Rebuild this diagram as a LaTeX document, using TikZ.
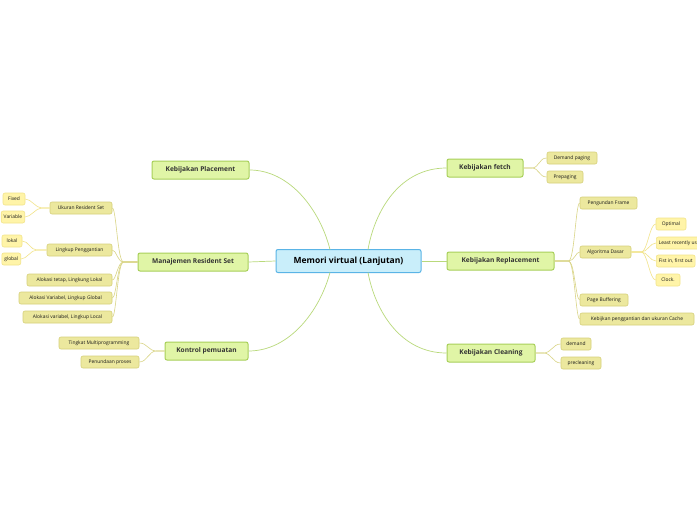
\documentclass[tikz,border=0pt]{standalone}
\usepackage{fontspec}
\setmainfont{Open Sans}
\begin{document}
\begin{tikzpicture}[x=1pt,y=-1pt,
 ctr/.style={draw=cb,fill=cf,line width=1pt,rounded corners=2pt,font=\fontsize{8.5}{10}\selectfont\bfseries,minimum height=23,inner xsep=6},
 mainn/.style={draw=mb,fill=mf,line width=1pt,rounded corners=2pt,font=\fontsize{6.6}{8}\selectfont\bfseries,text=black!80,minimum height=18,inner xsep=5},
 subn/.style={draw=sb,fill=sf,line width=0.6pt,rounded corners=2pt,font=\fontsize{4.9}{6}\selectfont,text=black!90,minimum height=12,inner xsep=2.5},
 leaf/.style={draw=lb,fill=lf,line width=0.6pt,rounded corners=2pt,font=\fontsize{4.9}{6}\selectfont,text=black!90,minimum height=12,inner xsep=2.5},
 conmain/.style={draw=mb!80,line width=0.7pt},
 consub/.style={draw=sb!90,line width=0.6pt},
 conleaf/.style={draw=lb,line width=0.6pt}]
\definecolor{cf}{HTML}{C9EEFA}\definecolor{cb}{HTML}{5AB4E6}
\definecolor{mf}{HTML}{E0F5A6}\definecolor{mb}{HTML}{A8D05A}
\definecolor{sf}{HTML}{ECE89E}\definecolor{sb}{HTML}{D6D07A}
\definecolor{lf}{HTML}{FFF4A8}\definecolor{lb}{HTML}{F2E48A}
\path[use as bounding box,fill=white] (0,0) rectangle (697,520);
\clip (0,0) rectangle (697,520);
\node[ctr,minimum width=145] (c) at (348.5,261) {Memori virtual (Lanjutan)};
\node[mainn,minimum width=97] (pl) at (200.5,170) {Kebijakan Placement};
\node[mainn,minimum width=110] (mr) at (193,262) {Manajemen Resident Set};
\node[mainn,minimum width=83] (kp) at (206.5,351) {Kontrol pemuatan};
\node[mainn,minimum width=76] (kf) at (485,168) {Kebijakan fetch};
\node[mainn,minimum width=107] (kr) at (500.5,261) {Kebijakan Replacement};
\node[mainn,minimum width=88] (kc) at (491,353) {Kebijakan Cleaning};
% left subs
\node[subn,minimum width=62] (u) at (81,208) {Ukuran Resident Set};
\node[subn,minimum width=65] (lp) at (79.5,250) {Lingkup Penggantian};
\node[subn,minimum width=85] (a1) at (69.5,280) {Alokasi tetap, Lingkung Lokal};
\node[subn,minimum width=93] (a2) at (65.5,298) {Alokasi Variabel, Lingkup Global};
\node[subn,minimum width=89] (a3) at (67.5,317) {Alokasi variabel, Lingkup Local};
\node[leaf,minimum width=22] (fx) at (14,199) {Fixed};
\node[leaf,anchor=east] (va) at (25,217) {Variable};
\node[leaf,minimum width=20] (lk) at (12,241) {lokal};
\node[leaf,anchor=east] (gl) at (21,259) {global};
\node[subn,minimum width=80] (tm) at (99,343) {Tingkat Multiprogramming};
\node[subn,minimum width=58] (pp) at (110,362) {Penundaan proses};
% right subs
\node[subn,minimum width=50] (dp) at (572,158) {Demand paging};
\node[subn,minimum width=36] (pg) at (565,177) {Prepaging};
\node[subn,minimum width=57] (pf) at (608.5,203) {Pengundan Frame};
\node[subn,minimum width=51] (ad) at (605.5,252) {Algoritma Dasar};
\node[subn,minimum width=48] (pb) at (604,300) {Page Buffering};
\node[subn,minimum width=114] (kb) at (637,319) {Kebijkan penggantian dan ukuran Cache};
\node[leaf,minimum width=30] (op) at (671,224) {Optimal};
\node[leaf,anchor=west] (lr) at (656,243) {Least recently used};
\node[leaf,anchor=west] (fi) at (656,261) {Fist in, first out};
\node[leaf,minimum width=24] (ck) at (668,280) {Clock.};
\node[subn,minimum width=30] (dm) at (576,344) {demand};
\node[subn,minimum width=40] (pc) at (581,363) {precleaning};
% main connectors
\coordinate (c1) at (330,249.5);\coordinate (c2) at (330,272.5);
\coordinate (c3) at (368,249.5);\coordinate (c4) at (368,272.5);
\draw[conmain] (pl.east) .. controls (290,170) and (320,210) .. (c1);
\draw[conmain] (mr.east) -- (c.west);
\draw[conmain] (kp.east) .. controls (290,351) and (320,310) .. (c2);
\draw[conmain] (kf.west) .. controls (400,168) and (375,210) .. (c3);
\draw[conmain] (c.east) -- (kr.west);
\draw[conmain] (kc.west) .. controls (400,353) and (375,310) .. (c4);
% subs
\foreach \n in {u,lp,a1,a2,a3}
  \draw[consub] (mr.west) -- ++(-14,0) .. controls +(-6,0) and +(4,0) .. (\n.east);
\foreach \n in {tm,pp}
  \draw[consub] (kp.west) -- ++(-8,0) .. controls +(-8,0) and +(8,0) .. (\n.east);
\foreach \n in {dp,pg}
  \draw[consub] (kf.east) -- ++(8,0) .. controls +(8,0) and +(-8,0) .. (\n.west);
\foreach \n in {pf,ad,pb,kb}
  \draw[consub] (kr.east) -- ++(14,0) .. controls +(6,0) and +(-4,0) .. (\n.west);
\foreach \n in {dm,pc}
  \draw[consub] (kc.east) -- ++(8,0) .. controls +(8,0) and +(-8,0) .. (\n.west);
\foreach \n in {fx,va}
  \draw[conleaf] (u.west) -- ++(-8,0) .. controls +(-6,0) and +(6,0) .. (\n.east);
\foreach \n in {lk,gl}
  \draw[conleaf] (lp.west) -- ++(-10,0) .. controls +(-6,0) and +(6,0) .. (\n.east);
\foreach \n in {op,lr,fi,ck}
  \draw[conleaf] (ad.east) -- ++(10,0) .. controls +(6,0) and +(-6,0) .. (\n.west);
\end{tikzpicture}
\end{document}
